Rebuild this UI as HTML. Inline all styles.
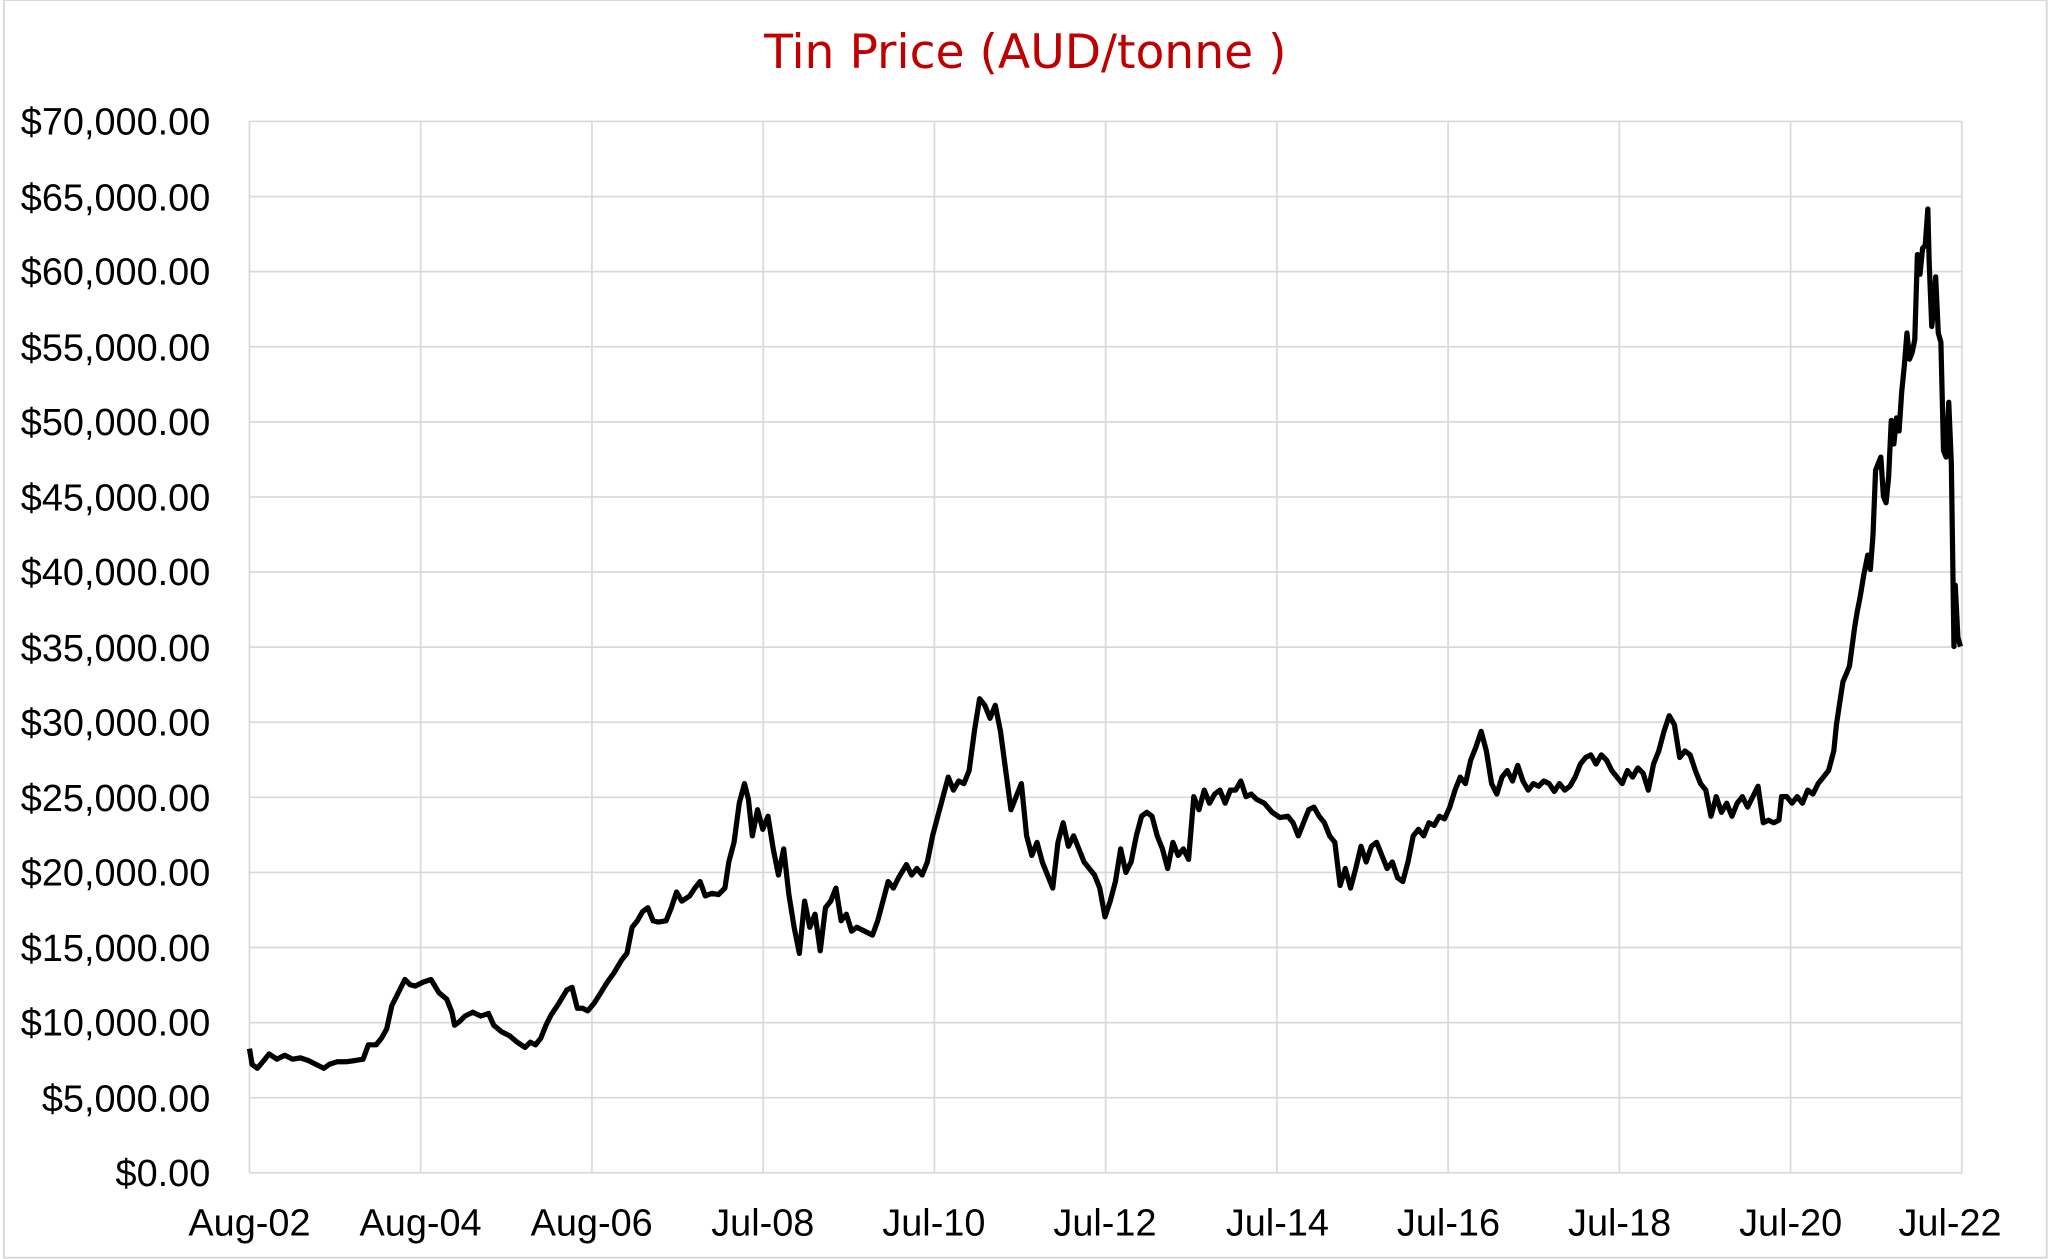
<!DOCTYPE html>
<html><head><meta charset="utf-8"><style>html,body{margin:0;padding:0;background:#fff}svg{display:block}</style></head>
<body>
<svg width="2048" height="1259" viewBox="0 0 1568 964" preserveAspectRatio="none" xmlns="http://www.w3.org/2000/svg">
<rect x="3" y="0" width="1564" height="963" fill="#fff" stroke="#d9d9d9" stroke-width="1.5"/>
<text x="785" y="52" text-anchor="middle" font-family="DejaVu Sans, Liberation Sans, sans-serif" font-size="36" fill="#C00000" textLength="400" lengthAdjust="spacingAndGlyphs">Tin Price (AUD/tonne )</text>
<g stroke="#d9d9d9" stroke-width="1.3">
<line x1="191" y1="93" x2="1502" y2="93"/><line x1="191" y1="150.5" x2="1502" y2="150.5"/><line x1="191" y1="208" x2="1502" y2="208"/><line x1="191" y1="265.5" x2="1502" y2="265.5"/><line x1="191" y1="323" x2="1502" y2="323"/><line x1="191" y1="380.5" x2="1502" y2="380.5"/><line x1="191" y1="438" x2="1502" y2="438"/><line x1="191" y1="495.5" x2="1502" y2="495.5"/><line x1="191" y1="553" x2="1502" y2="553"/><line x1="191" y1="610.5" x2="1502" y2="610.5"/><line x1="191" y1="668" x2="1502" y2="668"/><line x1="191" y1="725.5" x2="1502" y2="725.5"/><line x1="191" y1="783" x2="1502" y2="783"/><line x1="191" y1="840.5" x2="1502" y2="840.5"/><line x1="191" y1="898" x2="1502" y2="898"/>
<line x1="191" y1="93" x2="191" y2="898"/><line x1="322.1" y1="93" x2="322.1" y2="898"/><line x1="453.2" y1="93" x2="453.2" y2="898"/><line x1="584.3" y1="93" x2="584.3" y2="898"/><line x1="715.4" y1="93" x2="715.4" y2="898"/><line x1="846.5" y1="93" x2="846.5" y2="898"/><line x1="977.6" y1="93" x2="977.6" y2="898"/><line x1="1108.7" y1="93" x2="1108.7" y2="898"/><line x1="1239.8" y1="93" x2="1239.8" y2="898"/><line x1="1370.9" y1="93" x2="1370.9" y2="898"/><line x1="1502" y1="93" x2="1502" y2="898"/>
</g>
<g font-family="Liberation Sans, DejaVu Sans, sans-serif" font-size="29" fill="#000" text-anchor="end">
<text x="161" y="103">$70,000.00</text><text x="161" y="161">$65,000.00</text><text x="161" y="218">$60,000.00</text><text x="161" y="276">$55,000.00</text><text x="161" y="333">$50,000.00</text><text x="161" y="391">$45,000.00</text><text x="161" y="448">$40,000.00</text><text x="161" y="506">$35,000.00</text><text x="161" y="563">$30,000.00</text><text x="161" y="621">$25,000.00</text><text x="161" y="678">$20,000.00</text><text x="161" y="736">$15,000.00</text><text x="161" y="793">$10,000.00</text><text x="161" y="851">$5,000.00</text><text x="161" y="908">$0.00</text>
</g>
<g font-family="Liberation Sans, DejaVu Sans, sans-serif" font-size="29" fill="#000" text-anchor="middle">
<text x="191" y="946">Aug-02</text><text x="322" y="946">Aug-04</text><text x="453" y="946">Aug-06</text><text x="584" y="946">Jul-08</text><text x="715" y="946">Jul-10</text><text x="846" y="946">Jul-12</text><text x="978" y="946">Jul-14</text><text x="1109" y="946">Jul-16</text><text x="1240" y="946">Jul-18</text><text x="1371" y="946">Jul-20</text><text x="1493" y="946">Jul-22</text>
</g>
<polyline fill="none" stroke="#000" stroke-width="4" stroke-linejoin="round" points="191,803 193,815 197,818 202,812 206,807 212,811 218,808 224,811 230,810 236,812 242,815 248,818 252,815 258,813 265,813 272,812 278,811 282,800 288,800 292,795 296,788 300,770 304,762 310,750 314,754 318,755 324,752 330,750 336,760 342,765 346,775 348,785 352,782 356,778 362,775 368,778 374,776 378,785 384,790 390,793 396,798 402,802 406,798 410,800 414,795 418,785 422,777 428,768 434,758 438,756 442,772 446,772 450,774 455,768 460,760 465,752 470,745 476,735 480,730 484,710 488,705 492,698 496,695 500,705 504,706 510,705 514,695 518,683 522,690 528,686 532,680 536,675 540,686 545,684 550,685 555,680 558,660 562,645 566,615 570,600 573,612 576,640 580,620 584,635 588,625 592,650 596,670 600,650 604,685 608,710 612,730 616,690 620,710 624,700 628,728 632,695 636,690 640,680 644,705 648,700 652,713 656,710 660,712 668,716 672,705 676,690 680,675 684,680 688,672 694,662 698,670 702,665 706,670 710,660 714,640 718,625 722,610 726,595 730,605 734,598 738,600 742,590 746,560 750,535 754,540 758,550 762,540 766,560 770,590 774,620 778,610 782,600 786,640 790,655 794,645 798,660 802,670 806,680 810,645 814,630 818,648 822,640 826,650 830,660 834,665 838,670 842,680 846,702 850,690 854,675 858,650 862,668 866,660 870,640 874,625 878,622 882,625 886,640 890,650 894,665 898,645 902,655 906,650 910,658 914,610 918,620 922,605 926,615 930,608 934,605 938,615 942,605 946,605 950,598 954,610 958,608 962,612 968,615 974,622 980,626 986,625 990,630 994,640 998,630 1002,620 1006,618 1010,625 1014,630 1018,640 1022,645 1026,678 1030,665 1034,680 1038,665 1042,648 1046,660 1050,648 1054,645 1058,655 1062,665 1066,660 1070,672 1074,675 1078,660 1082,640 1086,635 1090,640 1094,630 1098,632 1102,625 1106,627 1110,618 1114,605 1118,595 1122,600 1126,582 1130,572 1134,560 1138,575 1142,600 1146,608 1150,595 1154,590 1158,598 1162,586 1166,598 1170,605 1174,600 1178,602 1182,598 1186,600 1190,606 1194,600 1198,605 1202,602 1206,595 1210,585 1214,580 1218,578 1222,585 1226,578 1230,582 1234,590 1238,595 1242,600 1246,590 1250,595 1254,588 1258,592 1262,605 1266,585 1270,575 1274,560 1278,548 1282,555 1286,580 1290,575 1294,578 1298,590 1302,600 1306,605 1310,625 1314,610 1318,622 1322,615 1326,625 1330,615 1334,610 1338,618 1342,610 1346,602 1350,630 1354,628 1358,630 1362,628 1364,610 1368,610 1372,615 1376,610 1380,615 1384,605 1388,608 1392,600 1396,595 1400,590 1404,575 1406,555 1409,535 1411,522 1414,515 1416,510 1418,495 1420,480 1422,468 1424,458 1427,440 1430,425 1432,436 1434,410 1436,360 1438,355 1440,350 1442,380 1444,385 1446,365 1448,322 1450,340 1452,320 1454,330 1456,300 1458,280 1460,255 1462,275 1464,270 1466,260 1468,195 1470,210 1472,190 1474,188 1476,160 1477,200 1479,250 1480,240 1482,212 1484,255 1486,262 1488,345 1490,350 1492,308 1494,355 1496,495 1497,448 1499,488 1501,495"/>
</svg>
</body></html>
